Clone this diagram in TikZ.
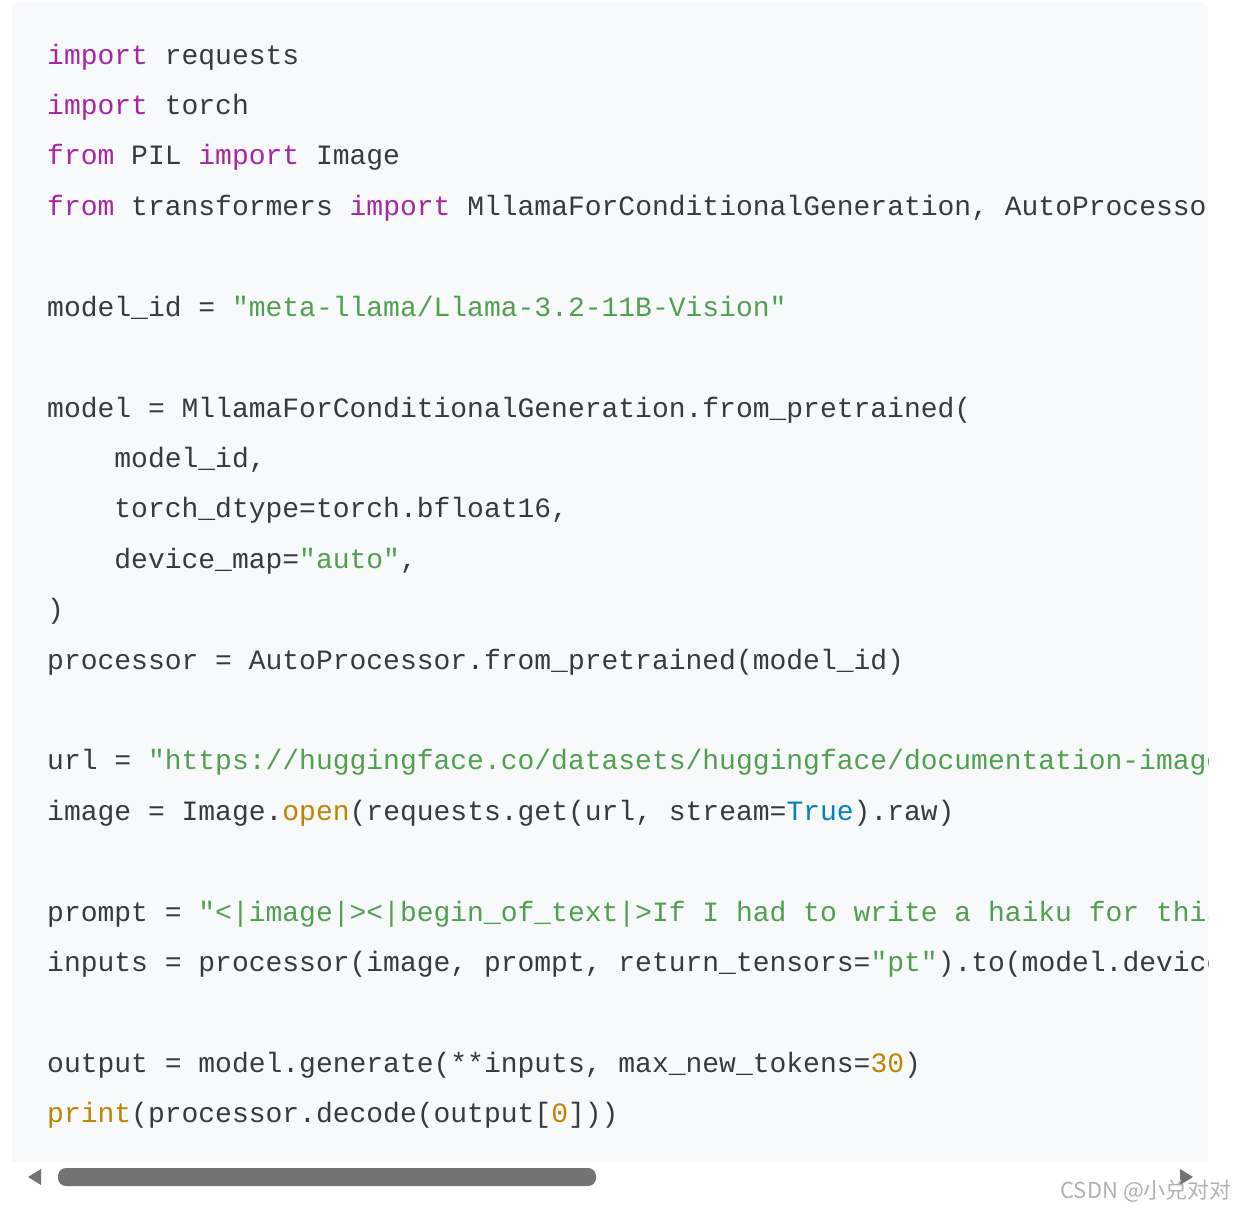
\documentclass[tikz,border=0pt]{standalone}
\usepackage{fontspec}
\newfontfamily\code{Liberation Mono}
\newfontfamily\cjk{Noto Sans CJK SC}
\definecolor{bg}{HTML}{F8F9FA}
\definecolor{tx}{HTML}{383A42}
\definecolor{kw}{HTML}{A626A4}
\definecolor{st}{HTML}{50A14F}
\definecolor{or}{HTML}{C18401}
\definecolor{bl}{HTML}{0184BC}
\newcommand\K[1]{\textcolor{kw}{#1}}
\newcommand\St[1]{\textcolor{st}{#1}}
\newcommand\Or[1]{\textcolor{or}{#1}}
\newcommand\Bl[1]{\textcolor{bl}{#1}}
\tikzset{ln/.style={anchor=base west,inner sep=0pt,font=\code\fontsize{28}{30}\selectfont,text=tx}}
\begin{document}
\begin{tikzpicture}[x=1pt,y=-1pt]
\useasboundingbox (0,0) rectangle (1236,1210);
\fill[white] (0,0) rectangle (1236,1210);
\fill[bg,rounded corners=8pt] (12,3) rectangle (1208,1192);
\begin{scope}
\clip (12,3) rectangle (1208,1192);
\node[ln] (l1) at (47,64) {\K{import} requests};
\node[ln] (l2) at (47,114) {\K{import} torch};
\node[ln] (l3) at (47,164) {\K{from} PIL \K{import} Image};
\node[ln] (l4) at (47,215) {\K{from} transformers \K{import} MllamaForConditionalGeneration, AutoProcessor};
\node[ln] (l5) at (47,316) {model\_id = \St{"meta-llama/Llama-3.2-11B-Vision"}};
\node[ln] (l6) at (47,417) {model = MllamaForConditionalGeneration.from\_pretrained(};
\node[ln] (l7) at (47,467) {\ \ \ \ model\_id,};
\node[ln] (l8) at (47,517) {\ \ \ \ torch\_dtype=torch.bfloat16,};
\node[ln] (l9) at (47,568) {\ \ \ \ device\_map=\St{"auto"},};
\node[ln] (l10) at (47,618) {)};
\node[ln] (l11) at (47,669) {processor = AutoProcessor.from\_pretrained(model\_id)};
\node[ln] (l12) at (47,769) {url = \St{"https://huggingface.co/datasets/huggingface/documentation-images"}};
\node[ln] (l13) at (47,820) {image = Image.\Or{open}(requests.get(url, stream=\Bl{True}).raw)};
\node[ln] (l14) at (47,921) {prompt = \St{"<|image|><|begin\_of\_text|>If I had to write a haiku for this"}};
\node[ln] (l15) at (47,971) {inputs = processor(image, prompt, return\_tensors=\St{"pt"}).to(model.device)};
\node[ln] (l16) at (47,1072) {output = model.generate(**inputs, max\_new\_tokens=\Or{30})};
\node[ln] (l17) at (47,1122) {\Or{print}(processor.decode(output[\Or{0}]))};
\end{scope}
\fill[white] (12,1162) rectangle (1208,1192);
\fill[gray!90!black,rounded corners=8pt] (58,1168) rectangle (596,1186);
\fill[gray!90!black] (28,1177) -- (41,1169) -- (41,1185) -- cycle;
\fill[gray!90!black] (1193,1177) -- (1180,1169) -- (1180,1185) -- cycle;
\node[anchor=east,inner sep=0pt,text=gray!60,font=\cjk\fontsize{22}{24}\selectfont] (wm) at (1232,1191) {CSDN @小兑对对};
\end{tikzpicture}
\end{document}
